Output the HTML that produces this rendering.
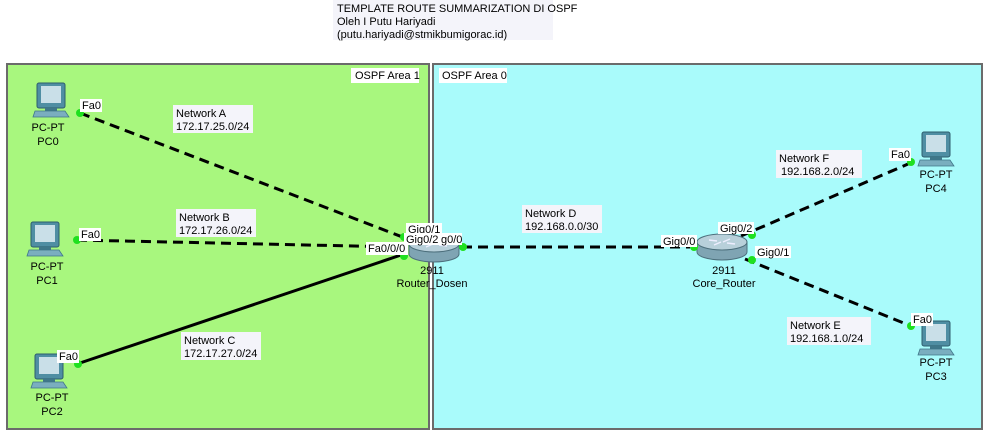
<!DOCTYPE html>
<html><head><meta charset="utf-8"><style>
body{margin:0;background:#fff;}
svg{display:block;font-family:"Liberation Sans",Tahoma,sans-serif;font-size:11px;}
</style></head><body>
<svg width="985" height="436" viewBox="0 0 985 436" xmlns="http://www.w3.org/2000/svg">
<defs>
<g id="pc">
 <rect x="2" y="0" width="28" height="25" rx="2" fill="#4f8ea3" stroke="#2e5d6d"/>
 <rect x="6" y="3" width="20" height="17" fill="#c9dfe8"/>
 <rect x="10" y="25" width="12" height="3" fill="#3f7789"/>
 <polygon points="0,28 30,28 34,34 -2,34" fill="#7aaebf" stroke="#3f7789" stroke-width="0.8"/>
</g>
<g id="rtr">
 <path d="M-25,-4 L-25,6 A25,8 0 0 0 25,6 L25,-4 Z" fill="#7fa4b3" stroke="#4d6f7c"/>
 <ellipse cx="0" cy="-4" rx="25" ry="8" fill="#b8d0da" stroke="#4d6f7c"/>
 <path d="M-13,-6 l8,1 M13,-2 l-8,-1 M-8,-1 l7,-3 M8,-7 l-7,3" stroke="#eef" stroke-width="1.4"/>
</g>
</defs>
<rect x="333" y="0" width="220" height="40" fill="#f4f4fa"/>
<text x="337" y="12">TEMPLATE ROUTE SUMMARIZATION DI OSPF</text>
<text x="337" y="25">Oleh I Putu Hariyadi</text>
<text x="337" y="38">(putu.hariyadi@stmikbumigorac.id)</text>

<rect x="7" y="64" width="422" height="365" fill="#a8f77e" stroke="#6b6b6b" stroke-width="2"/>
<rect x="433" y="64" width="549" height="365" fill="#a9fbfb" stroke="#6b6b6b" stroke-width="2"/>
<rect x="351" y="68" width="68" height="15" fill="#fff"/><text x="355" y="79">OSPF Area 1</text>
<rect x="439" y="68" width="68" height="15" fill="#fff"/><text x="442" y="79">OSPF Area 0</text>

<g stroke="#000" stroke-width="3" fill="none">
 <line x1="80" y1="113" x2="405" y2="238" stroke-dasharray="10,6"/>
 <line x1="77" y1="240" x2="400" y2="247" stroke-dasharray="10,6"/>
 <line x1="77" y1="364" x2="404" y2="254"/>
 <line x1="462" y1="247" x2="690" y2="247" stroke-dasharray="10,6"/>
 <line x1="741" y1="236" x2="908" y2="164" stroke-dasharray="10,6"/>
 <line x1="745" y1="259" x2="911" y2="326" stroke-dasharray="10,6"/>
</g>

<use href="#pc" x="35" y="83"/>
<use href="#pc" x="29" y="222"/>
<use href="#pc" x="33" y="354"/>
<use href="#pc" x="920" y="132"/>
<use href="#pc" x="920" y="321"/>
<use href="#rtr" x="434" y="248"/>
<use href="#rtr" x="722" y="246"/>

<g fill="#1fe01f">
 <circle cx="80" cy="113" r="4"/><circle cx="77" cy="240" r="4"/><circle cx="78" cy="364" r="4"/>
 <circle cx="911" cy="162" r="4"/><circle cx="911" cy="326" r="4"/>
 <circle cx="404" cy="237" r="4"/><circle cx="404" cy="256" r="4"/><circle cx="463" cy="247" r="4"/>
 <circle cx="694" cy="247" r="4"/><circle cx="752" cy="235" r="4"/><circle cx="752" cy="260" r="4"/>
</g>

<g text-anchor="middle">
 <text x="48" y="131">PC-PT</text><text x="48" y="145">PC0</text>
 <text x="47" y="270">PC-PT</text><text x="47" y="284">PC1</text>
 <text x="52" y="401">PC-PT</text><text x="52" y="415">PC2</text>
 <text x="936" y="178">PC-PT</text><text x="936" y="192">PC4</text>
 <text x="936" y="366">PC-PT</text><text x="936" y="380">PC3</text>
 <text x="432" y="274">2911</text><text x="432" y="287">Router_Dosen</text>
 <text x="724" y="274">2911</text><text x="724" y="287">Core_Router</text>
</g>

<g>
 <rect x="80" y="99" width="22" height="13" fill="#fff"/><text x="82" y="109">Fa0</text>
 <rect x="79" y="228" width="22" height="13" fill="#fff"/><text x="81" y="238">Fa0</text>
 <rect x="57" y="350" width="22" height="13" fill="#fff"/><text x="59" y="360">Fa0</text>
 <rect x="889" y="148" width="22" height="13" fill="#fff"/><text x="891" y="158">Fa0</text>
 <rect x="911" y="313" width="22" height="13" fill="#fff"/><text x="913" y="323">Fa0</text>
 <rect x="406" y="223" width="36" height="12" fill="#fff"/><text x="408" y="233">Gig0/1</text>
 <rect x="404" y="233" width="36" height="12" fill="#fff"/><text x="406" y="243">Gig0/2</text>
 <rect x="440" y="233" width="22" height="12" fill="#fff"/><text x="441" y="243">g0/0</text>
 <rect x="366" y="242" width="42" height="13" fill="#fff"/><text x="368" y="252">Fa0/0/0</text>
 <rect x="661" y="235" width="36" height="12" fill="#fff"/><text x="663" y="245">Gig0/0</text>
 <rect x="718" y="222" width="36" height="12" fill="#fff"/><text x="720" y="232">Gig0/2</text>
 <rect x="755" y="246" width="36" height="12" fill="#fff"/><text x="757" y="256">Gig0/1</text>

 <rect x="173" y="105" width="80" height="28" fill="#f4f4fa"/><text x="176" y="117">Network A</text><text x="176" y="130">172.17.25.0/24</text>
 <rect x="176" y="209" width="80" height="28" fill="#f4f4fa"/><text x="179" y="221">Network B</text><text x="179" y="234">172.17.26.0/24</text>
 <rect x="181" y="332" width="80" height="28" fill="#f4f4fa"/><text x="184" y="344">Network C</text><text x="184" y="357">172.17.27.0/24</text>
 <rect x="522" y="205" width="80" height="28" fill="#f4f4fa"/><text x="525" y="217">Network D</text><text x="525" y="230">192.168.0.0/30</text>
 <rect x="776" y="150" width="86" height="28" fill="#f4f4fa"/><text x="779" y="162">Network F</text><text x="781" y="175">192.168.2.0/24</text>
 <rect x="787" y="317" width="84" height="28" fill="#f4f4fa"/><text x="790" y="329">Network E</text><text x="790" y="342">192.168.1.0/24</text>
</g>
</svg>
</body></html>
